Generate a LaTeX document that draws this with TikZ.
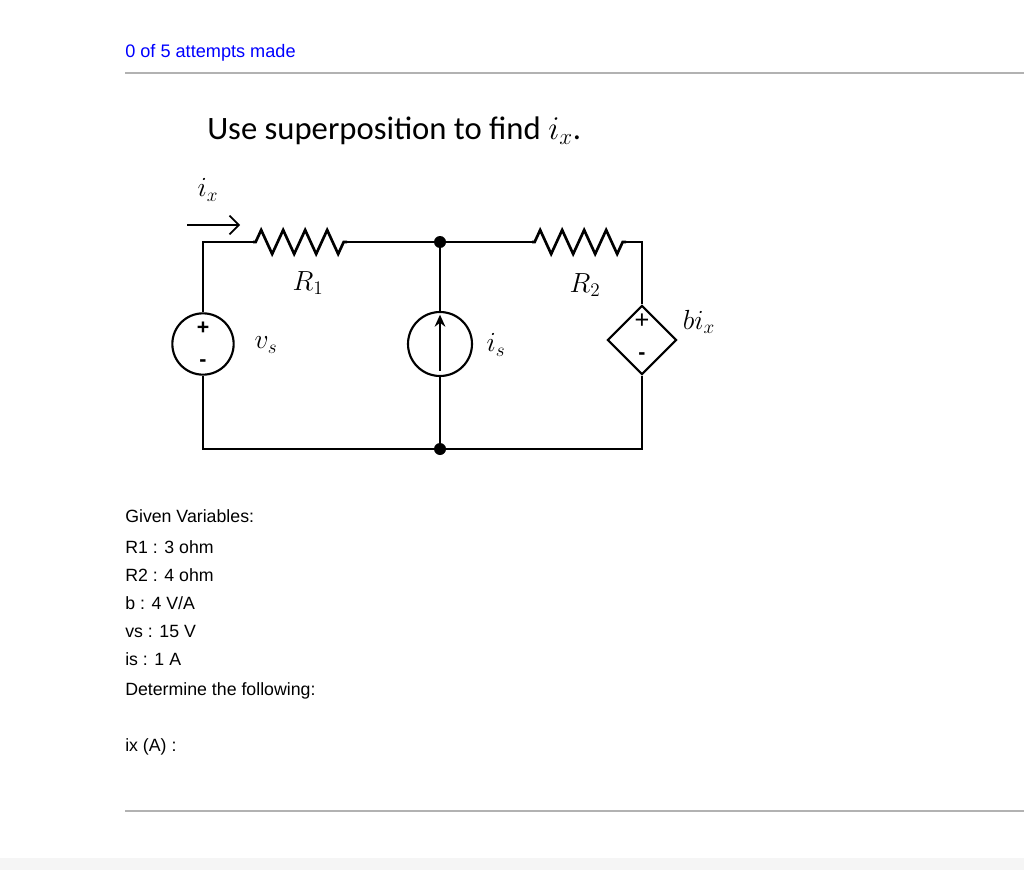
\documentclass[tikz,border=0pt]{standalone}
\usepackage{fontspec}
\setmainfont{Liberation Sans}
\newfontfamily\calfnt{Carlito}
\usetikzlibrary{shapes.geometric,arrows.meta,decorations.pathmorphing}
\begin{document}
\begin{tikzpicture}[x=0.75pt,y=-0.75pt,
  wire/.style={line width=2pt},
  res/.style={wire,decorate,decoration={zigzag,segment length=16.5pt,amplitude=9pt,pre length=2pt,post length=2pt}},
  dot/.style={circle,fill,inner sep=0pt,minimum size=9pt},
  txt/.style={anchor=west,inner sep=0pt,font=\fontsize{13.3pt}{15pt}\selectfont},
  lab/.style={font=\fontsize{21pt}{23pt}\selectfont}]
\useasboundingbox (0,0) rectangle (1024,870);
\fill[white] (0,0) rectangle (1024,870);
\fill[gray!8] (0,858) rectangle (1024,870);
\node[anchor=west,inner sep=0pt,text=blue,font=\fontsize{13.6pt}{15pt}\selectfont] (att) at (125,53) {0 of 5 attempts made};
\draw[gray!60,line width=0.8pt] (125,73) -- (1024,73);
\draw[gray!60,line width=0.8pt] (125,811) -- (1024,811);
\node[anchor=west,inner sep=0pt,font=\calfnt\fontsize{24.5pt}{26pt}\selectfont] (title) at (207,131) {Use superposition to find $i_x$.};
% circuit nodes
\coordinate (tl) at (203,242);
\coordinate (bl) at (203,449);
\node[dot] (tm) at (440,242) {};
\node[dot] (bm) at (440,449) {};
\coordinate (tr) at (642,242);
\coordinate (br) at (642,449);
\coordinate (r1a) at (253,242); \coordinate (r1b) at (347,242);
\coordinate (r2a) at (532,242); \coordinate (r2b) at (626,242);
\node[circle,draw,line width=1.6pt,inner sep=0pt,minimum width=46pt] (vs) at (203,344) {};
\node[circle,draw,line width=1.6pt,inner sep=0pt,minimum width=48pt] (is) at (440,344) {};
\node[diamond,draw,line width=1.6pt,inner sep=0pt,minimum width=52pt,minimum height=52pt] (dep) at (642,340) {};
\draw[wire] (vs.north) -- (tl) -- (r1a);
\draw[res] (r1a) -- (r1b);
\draw[wire] (r1b) -- (tm) -- (r2a);
\draw[res] (r2a) -- (r2b);
\draw[wire] (r2b) -- (tr) -- (dep.north);
\draw[wire] (dep.south) -- (br) -- (bm) -- (bl) -- (vs.south);
\draw[wire] (tm) -- (is.north);
\draw[wire] (bm) -- (is.south);
\draw[line width=2pt,-{Stealth[length=9pt,width=8pt]}] ([yshift=-20]is.center) -- ([yshift=22]is.center);
\node[font=\bfseries\fontsize{16pt}{16pt}\selectfont] at ([yshift=12]vs.center) {+};
\node[font=\bfseries\fontsize{16pt}{16pt}\selectfont] at ([yshift=-14]vs.center) {-};
\node[font=\fontsize{19pt}{19pt}\selectfont] at ([yshift=14]dep.center) {+};
\node[font=\bfseries\fontsize{16pt}{16pt}\selectfont] at ([yshift=-12]dep.center) {-};
\node[lab] (lvs) at (266,345) {$v_s$};
\node[lab] (lis) at (496,345) {$i_s$};
\node[lab] (lr1) at (308,283) {$R_1$};
\node[lab] (lr2) at (585,285) {$R_2$};
\node[lab] (lb) at (699,322) {$bi_x$};
\node[lab] (lix) at (208,190) {$i_x$};
\coordinate (ax1) at (187,225); \coordinate (ax2) at (240,225);
\draw[line width=1.2pt,-{Straight Barb[length=7pt]}] (ax1) -- (ax2);
% text
\node[txt] (t1) at (125,516) {Given Variables:};
\node[txt] (t2) at (125,547) {R1 : 3 ohm};
\node[txt] (t3) at (125,575) {R2 : 4 ohm};
\node[txt] (t4) at (125,603) {b : 4 V/A};
\node[txt] (t5) at (125,631) {vs : 15 V};
\node[txt] (t6) at (125,659) {is : 1 A};
\node[txt] (t7) at (125,691) {Determine the following:};
\node[txt] (t8) at (125,747) {ix (A) :};
\end{tikzpicture}
\end{document}
